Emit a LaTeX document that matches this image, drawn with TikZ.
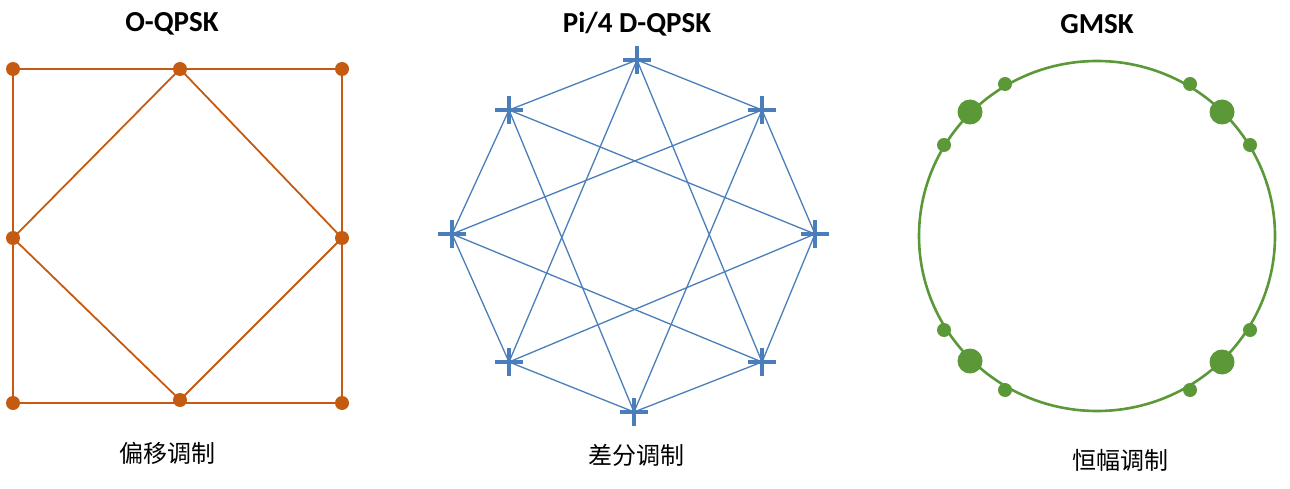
\documentclass[tikz,border=0pt]{standalone}
\usepackage{fontspec}
\setmainfont{Carlito}
\newfontfamily\cjk{Noto Sans CJK SC}
\definecolor{oq}{HTML}{C55A11}
\definecolor{bq}{HTML}{4A7EBB}
\definecolor{gq}{HTML}{5B9837}
\begin{document}
\begin{tikzpicture}[x=1pt,y=-1pt,
  ttl/.style={font=\fontsize{29}{32}\selectfont\bfseries},
  cn/.style={font=\cjk\fontsize{24}{28}\selectfont},
  odot/.style={circle,fill=oq,inner sep=0,minimum size=14pt},
  bdot/.style={inner sep=0,minimum size=1pt},
  gbig/.style={circle,fill=gq,inner sep=0,minimum size=25pt},
  gsm/.style={circle,fill=gq,inner sep=0,minimum size=14pt}]
\useasboundingbox[fill=white] (0,0) rectangle (1290,489);
% titles
\node[ttl] (t1) at (172,24) {O-QPSK};
\node[ttl] (t2) at (637,24) {Pi/4 D-QPSK};
\node[ttl] (t3) at (1097,24) {GMSK};
\node[cn] (c1) at (167,453) {偏移调制};
\node[cn] (c2) at (636,455) {差分调制};
\node[cn] (c3) at (1120,460) {恒幅调制};
% O-QPSK
\foreach \n/\x/\y in {a/13/69,b/180/69,c/342/69,d/13/238,e/342/238,f/13/403,g/180/400,h/342/403}
  \coordinate (o\n) at (\x,\y);
\draw[oq,line width=1.8pt] (oa)--(oc)--(oh)--(of)--cycle;
\draw[oq,line width=1.8pt] (ob)--(oe)--(og)--(od)--cycle;
\foreach \n in {a,b,c,d,e,f,g,h} \node[odot] (O\n) at (o\n) {};
% Pi/4 DQPSK
\foreach \i/\x/\y in {0/637/60,1/762/110,2/815/234,3/762/362,4/634/412,5/509/362,6/452/234,7/509/110}
  \node[bdot] (p\i) at (\x,\y) {};
\foreach \i in {0,...,7}{
  \pgfmathtruncatemacro{\j}{mod(\i+1,8)}
  \pgfmathtruncatemacro{\k}{mod(\i+3,8)}
  \draw[bq,line width=1.3pt] (p\i.center)--(p\j.center);
  \draw[bq,line width=1.3pt] (p\i.center)--(p\k.center);
}
\foreach \i in {0,...,7}{
  \draw[bq,line width=3.5pt] ([xshift=-14pt]p\i.center)--([xshift=14pt]p\i.center);
  \draw[bq,line width=3.5pt] ([yshift=-14pt]p\i.center)--([yshift=14pt]p\i.center);
}
% GMSK
\draw[gq,line width=2.6pt] (1097,236) ellipse [x radius=178, y radius=175];
\foreach \n/\x/\y in {1/970/112,2/1222/112,3/970/361,4/1222/362}
  \node[gbig] (G\n) at (\x,\y) {};
\foreach \n/\x/\y in {1/1005/84,2/1190/84,3/944/145,4/1250/145,5/944/330,6/1250/330,7/1005/390,8/1190/390}
  \node[gsm] (g\n) at (\x,\y) {};
\end{tikzpicture}
\end{document}
